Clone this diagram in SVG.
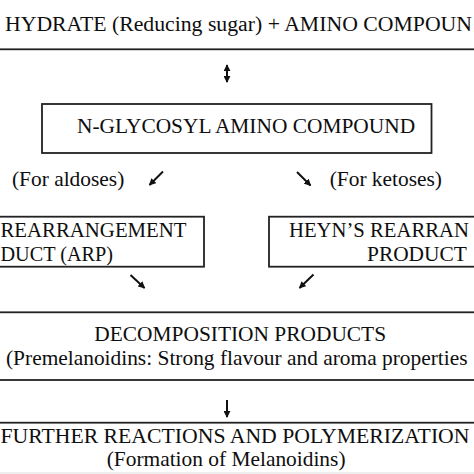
<svg xmlns="http://www.w3.org/2000/svg" width="474" height="474" viewBox="0 0 474 474">
  <style>
    .t { font-family: "Liberation Serif", "Times New Roman", serif; font-size: 21.4px; fill: #0e0e0e; }
    .box { fill: #ffffff; stroke: #222222; stroke-width: 1.8; }
    .arr { fill: none; stroke: #111111; stroke-width: 2; marker-end: url(#head); }
    .band { fill: #eeeeee; }
  </style>
  <defs>
    <marker id="head" viewBox="0 0 8 8" refX="7" refY="4" markerWidth="7" markerHeight="7" markerUnits="userSpaceOnUse" orient="auto-start-reverse">
      <path d="M0,0 L8,4 L0,8 z" fill="#111111"/>
    </marker>
  </defs>
  <rect x="0" y="0" width="474" height="474" fill="#ffffff"/>
  <rect class="band" x="0" y="0" width="474" height="2"/>

  <g id="carbohydrate">
    <rect class="box" x="-10" y="-20" width="494" height="69.3"/>
    <text class="t" x="5" y="30.5" textLength="467" lengthAdjust="spacingAndGlyphs" style="font-size:21.6px">HYDRATE (Reducing sugar) + AMINO COMPOUN</text>
  </g>

  <g id="n-glycosyl">
    <rect class="box" x="42" y="104" width="389.5" height="49"/>
    <text class="t" x="77" y="133">N-GLYCOSYL AMINO COMPOUND</text>
  </g>

  <g id="label-aldoses">
    <text class="t" x="12" y="186">(For aldoses)</text>
  </g>
  <g id="label-ketoses">
    <text class="t" x="329.7" y="186">(For ketoses)</text>
  </g>

  <g id="arp">
    <rect class="box" x="-10" y="216.7" width="214" height="50"/>
    <text class="t" x="0.5" y="237" textLength="186" lengthAdjust="spacingAndGlyphs">REARRANGEMENT</text>
    <text class="t" x="0.5" y="261" textLength="112.5" lengthAdjust="spacingAndGlyphs">DUCT (ARP)</text>
  </g>

  <g id="hrp">
    <rect class="box" x="269" y="216.7" width="220" height="50"/>
    <text class="t" x="289" y="237" style="font-size:20.7px">HEYN’S REARRAN</text>
    <text class="t" x="367" y="261">PRODUCT</text>
  </g>

  <g id="decomposition">
    <rect class="box" x="-10" y="312.3" width="494" height="67.7"/>
    <text class="t" x="94.3" y="340.7">DECOMPOSITION PRODUCTS</text>
    <text class="t" x="6" y="365">(Premelanoidins: Strong flavour and aroma properties</text>
  </g>

  <g id="further">
    <rect class="box" x="-10" y="422.7" width="494" height="70"/>
    <text class="t" x="0.5" y="442.7" textLength="469" lengthAdjust="spacingAndGlyphs">FURTHER REACTIONS AND POLYMERIZATION</text>
    <text class="t" x="106.7" y="466">(Formation of Melanoidins)</text>
  </g>

  <g id="connectors">
    <line class="arr" x1="227" y1="65" x2="227" y2="82" style="marker-start:url(#head)"/>
    <line class="arr" x1="163" y1="171.5" x2="149.5" y2="185"/>
    <line class="arr" x1="297" y1="172" x2="310.5" y2="185.5"/>
    <line class="arr" x1="130.5" y1="275" x2="144.5" y2="288"/>
    <line class="arr" x1="313.5" y1="274.5" x2="299.5" y2="288"/>
    <line class="arr" x1="227" y1="400" x2="227" y2="417"/>
  </g>

  <rect class="band" x="0" y="472" width="474" height="2"/>
</svg>
